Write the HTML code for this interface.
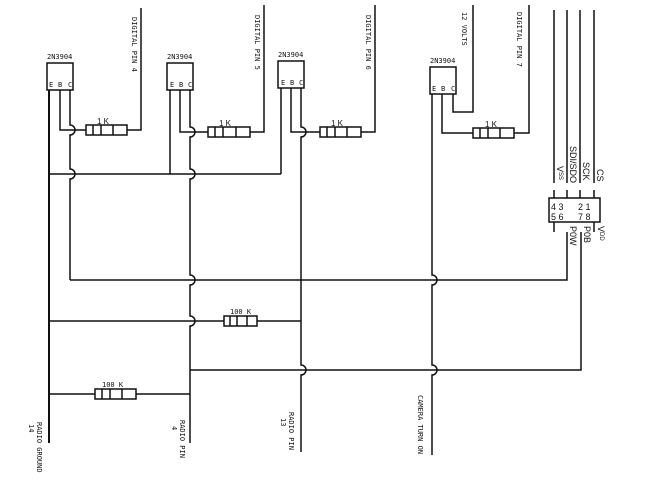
<!DOCTYPE html>
<html><head><style>
html,body{margin:0;padding:0;background:#fff;width:647px;height:500px;overflow:hidden}
svg text{font-family:"DejaVu Sans Mono","Liberation Mono",monospace;fill:#111}
</style></head><body>
<svg width="647" height="500" viewBox="0 0 647 500" xmlns="http://www.w3.org/2000/svg">
<g stroke="#111" fill="none" stroke-width="1.5">
<!-- horizontal lines -->
<path d="M49 174 H281"/>
<path d="M70 280 H567 V232"/>
<path d="M49 321 H224 M257 321 H301"/>
<path d="M190 370 H581 V232"/>
<path d="M49 394 H95 M136 394 H190"/>
<!-- transistor 1 -->
<rect x="47" y="63" width="26" height="27" fill="#fff"/>
<path d="M49 90 V443" stroke-width="2"/>
<path d="M60 90 V130 H86"/>
<path d="M70 90 V125 A5 5 0 0 1 70 135 V169 A5 5 0 0 1 70 179 V280"/>
<rect x="86" y="125" width="41" height="10"/><path d="M93 125V135M101 125V135M113 125V135"/>
<path d="M127 130 H141 V8"/>
<!-- transistor 2 -->
<rect x="167" y="63" width="26" height="27" fill="#fff"/>
<path d="M170 90 V174"/>
<path d="M180 90 V132 H208"/>
<path d="M190 90 V127 A5 5 0 0 1 190 137 V169 A5 5 0 0 1 190 179 V275 A5 5 0 0 1 190 285 V316 A5 5 0 0 1 190 326 V443"/>
<rect x="208" y="127" width="42" height="10"/><path d="M215 127V137M223 127V137M236 127V137"/>
<path d="M250 132 H264 V5"/>
<!-- transistor 3 -->
<rect x="278" y="61" width="26" height="27" fill="#fff"/>
<path d="M281 88 V174"/>
<path d="M291 88 V132 H320"/>
<path d="M301 88 V127 A5 5 0 0 1 301 137 V365 A5 5 0 0 1 301 375 V452"/>
<rect x="320" y="127" width="41" height="10"/><path d="M327 127V137M335 127V137M347 127V137"/>
<path d="M361 132 H375 V5"/>
<!-- transistor 4 -->
<rect x="430" y="67" width="26" height="27" fill="#fff"/>
<path d="M432 94 V275 A5 5 0 0 1 432 285 V365 A5 5 0 0 1 432 375 V455"/>
<path d="M442 94 V133 H473"/>
<path d="M453 94 V112 H473 V5"/>
<rect x="473" y="128" width="41" height="10"/><path d="M480 128V138M488 128V138M500 128V138"/>
<path d="M514 133 H529 V5"/>
<!-- chip -->
<path d="M554 10V183 M567 10V183 M580 10V183 M594 10V183"/>
<path d="M554 190V198 M567 190V198 M580 190V198 M594 190V198"/>
<rect x="549" y="198" width="51" height="24"/>
<path d="M554 222V232 M594 222V232"/>
<!-- 100K resistors -->
<rect x="224" y="316" width="33" height="10"/><path d="M230 316V326M237 316V326M247 316V326"/>
<rect x="95" y="389" width="41" height="10"/><path d="M102 389V399M110 389V399M122 389V399"/>
</g>
<g font-size="7">
<text x="47" y="59">2N3904</text>
<text x="167" y="59">2N3904</text>
<text x="278" y="57">2N3904</text>
<text x="430" y="63">2N3904</text>
<text x="49" y="87">E</text><text x="58" y="87">B</text><text x="68" y="87">C</text>
<text x="170" y="87">E</text><text x="179" y="87">B</text><text x="188" y="87">C</text>
<text x="281" y="85">E</text><text x="290" y="85">B</text><text x="299" y="85">C</text>
<text x="432" y="91">E</text><text x="441" y="91">B</text><text x="451" y="91">C</text>
<text transform="translate(132,17) rotate(90)">DIGITAL PIN 4</text>
<text transform="translate(255,15) rotate(90)">DIGITAL PIN 5</text>
<text transform="translate(366,15) rotate(90)">DIGITAL PIN 6</text>
<text transform="translate(462,12) rotate(90)">12 VOLTS</text>
<text transform="translate(517,12) rotate(90)">DIGITAL PIN 7</text>
<text x="230" y="314">100 K</text>
<text x="102" y="387">100 K</text>
<text transform="translate(37,422) rotate(90)">RADIO GROUND</text>
<text transform="translate(29,424) rotate(90)">14</text>
<text transform="translate(180,420) rotate(90)">RADIO PIN</text>
<text transform="translate(172,426) rotate(90)">4</text>
<text transform="translate(289,412) rotate(90)">RADIO PIN</text>
<text transform="translate(281,418) rotate(90)">13</text>
<text transform="translate(418,395) rotate(90)">CAMERA TURN ON</text>
</g>
<g font-size="8" font-family="Liberation Sans">
<text x="97" y="124" style="font-family:'Liberation Sans'">1  K</text>
<text x="219" y="126" style="font-family:'Liberation Sans'">1  K</text>
<text x="331" y="126" style="font-family:'Liberation Sans'">1  K</text>
<text x="485" y="127" style="font-family:'Liberation Sans'">1  K</text>
</g>
<g font-size="9" style="font-family:'Liberation Sans'">
<text x="551" y="210" style="font-family:'Liberation Sans'">4 3</text>
<text x="578" y="210" style="font-family:'Liberation Sans'">2 1</text>
<text x="551" y="220" style="font-family:'Liberation Sans'">5 6</text>
<text x="578" y="220" style="font-family:'Liberation Sans'">7 8</text>
<text transform="translate(570,146) rotate(90)" style="font-family:'Liberation Sans'">SDI/SDO</text>
<text transform="translate(583,162) rotate(90)" style="font-family:'Liberation Sans'">SCK</text>
<text transform="translate(597,169) rotate(90)" style="font-family:'Liberation Sans'">CS</text>
<text transform="translate(557,166) rotate(90)" style="font-family:'Liberation Sans'">V<tspan font-size="6" dy="-2">SS</tspan></text>
<text transform="translate(570,226) rotate(90)" style="font-family:'Liberation Sans'">P0W</text>
<text transform="translate(584,226) rotate(90)" style="font-family:'Liberation Sans'">P0B</text>
<text transform="translate(598,226) rotate(90)" style="font-family:'Liberation Sans'">V<tspan font-size="6" dy="-2">DD</tspan></text>
</g>
</svg>
</body></html>
